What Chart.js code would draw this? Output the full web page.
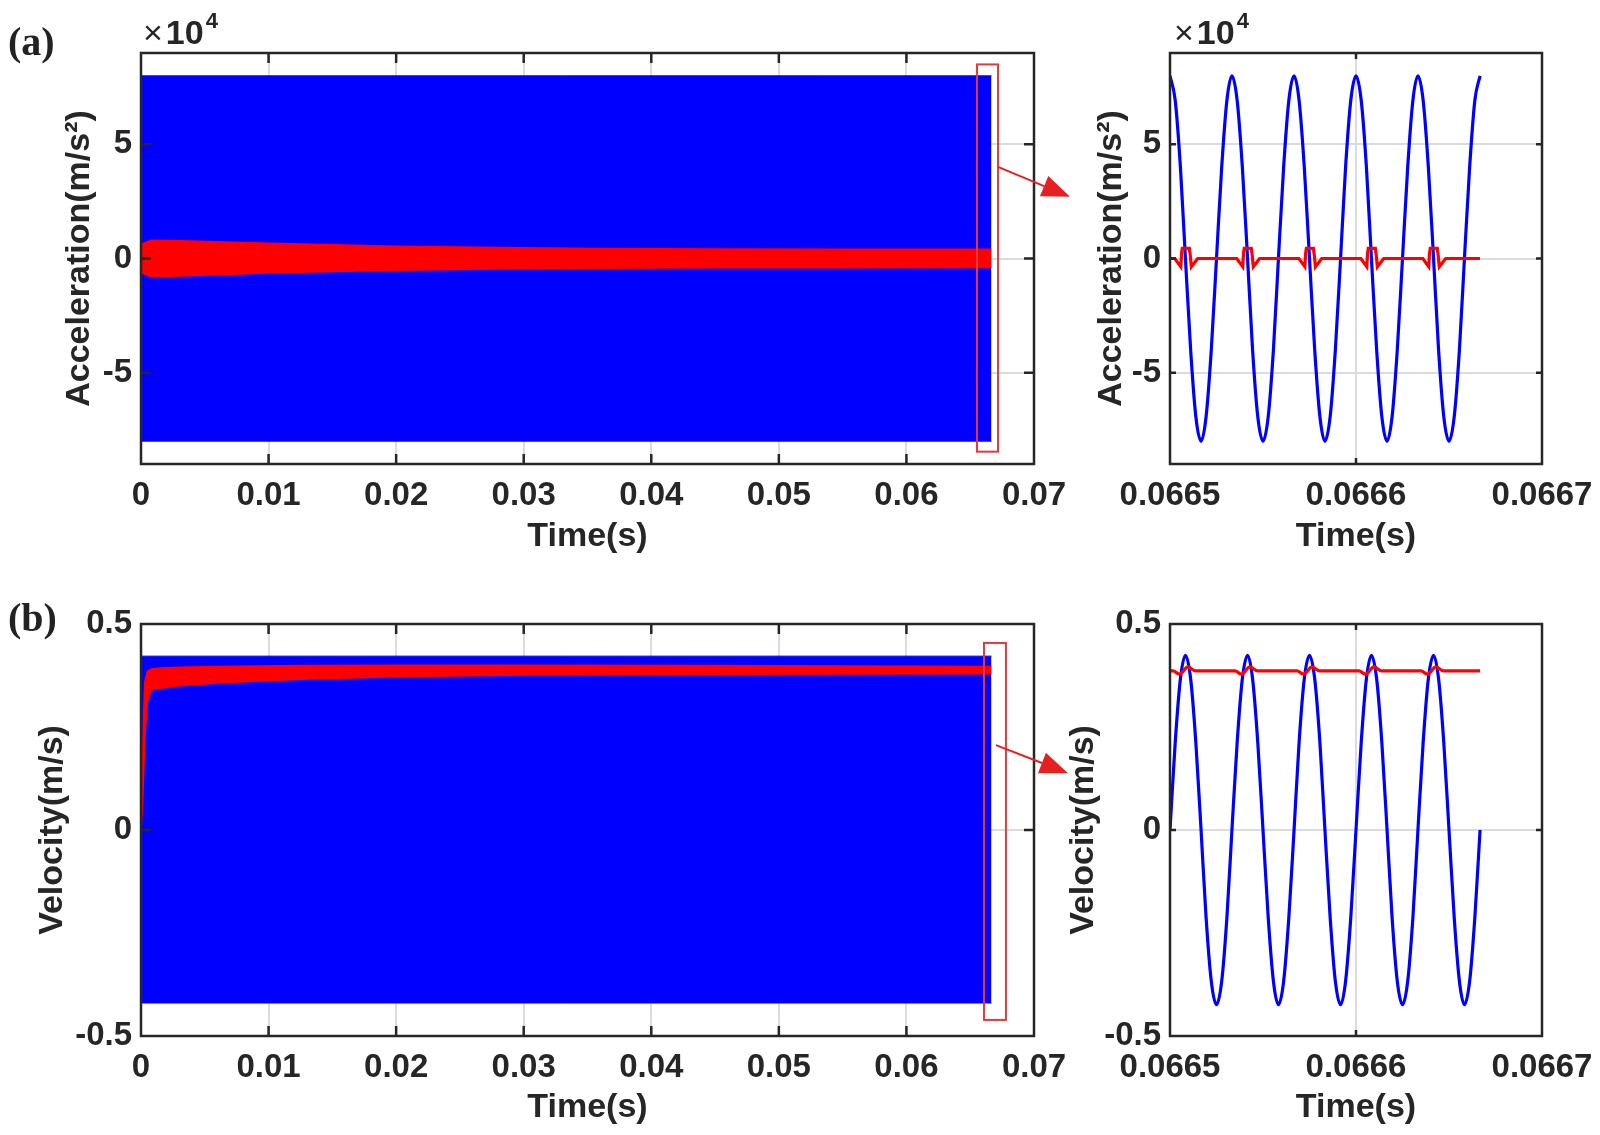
<!DOCTYPE html>
<html><head><meta charset="utf-8">
<script src="https://cdn.jsdelivr.net/npm/chart.js@4.4.1/dist/chart.umd.min.js"></script>
<style>
html,body{margin:0;padding:0;background:#fff;width:1600px;height:1135px;overflow:hidden;}
canvas{position:absolute;left:0;top:0;}
.lbl{position:absolute;font-family:'Liberation Serif','Times New Roman',serif;font-weight:bold;font-size:40px;line-height:40px;color:#222;}
.exp{position:absolute;font-family:'Liberation Sans',Arial,sans-serif;font-weight:bold;color:#262626;white-space:nowrap;font-size:34px;line-height:34px;}
.exp .x{font-weight:normal;font-size:34px;}
.exp .n{margin-left:3px;}
.exp .s{font-size:22px;position:relative;top:-16px;margin-left:2px;}
</style></head><body>
<canvas id="cA" width="1600" height="1135"></canvas>
<canvas id="cB" width="1600" height="1135"></canvas>
<canvas id="cC" width="1600" height="1135"></canvas>
<canvas id="cD" width="1600" height="1135"></canvas>
<div class="lbl" style="left:8px;top:22px;">(a)</div>
<div class="lbl" style="left:8px;top:598px;">(b)</div>
<div class="exp" style="left:143px;top:15px;"><span class="x">×</span><span class="n">10</span><span class="s">4</span></div>
<div class="exp" style="left:1174px;top:15px;"><span class="x">×</span><span class="n">10</span><span class="s">4</span></div>
<script>
// ---------- tick values / labels ----------
const timeTicks = [0, 0.01, 0.02, 0.03, 0.04, 0.05, 0.06, 0.07];
const timeTickLabels = ['0', '0.01', '0.02', '0.03', '0.04', '0.05', '0.06', '0.07'];
const zoomTimeTicks = [0.0665, 0.0666, 0.0667];
const zoomTimeTickLabels = ['0.0665', '0.0666', '0.0667'];
const accelTicks = [-5, 0, 5];
const accelTickLabels = ['-5', '0', '5'];
const velTicks = [-0.5, 0, 0.5];
const velTickLabels = ['-0.5', '0', '0.5'];

// ---------- full-record envelopes (acceleration in 1e4 m/s^2) ----------
const fullTime = [0, 0.0666667];
const accelBlueUpper = [8.0, 8.0];
const accelBlueLower = [-8.0, -8.0];
const accelRedTime = [0, 0.0008, 0.003, 0.006, 0.01, 0.015, 0.02, 0.028, 0.036, 0.045, 0.055, 0.0666667];
const accelRedUpper = [0.62, 0.80, 0.78, 0.73, 0.67, 0.60, 0.54, 0.48, 0.44, 0.42, 0.41, 0.40];
const accelRedLower = [-0.62, -0.80, -0.77, -0.71, -0.64, -0.57, -0.51, -0.46, -0.43, -0.41, -0.40, -0.39];

const velBlueUpper = [0.422, 0.422];
const velBlueLower = [-0.42, -0.42];
const velRedTime = [0, 0.0001, 0.0002, 0.0003, 0.0005, 0.0008, 0.0015, 0.003, 0.006, 0.0125, 0.02, 0.03, 0.045, 0.0666667];
const velRedUpper = [0, 0.14, 0.28, 0.36, 0.385, 0.391, 0.393, 0.395, 0.397, 0.399, 0.400, 0.400, 0.399, 0.397];
const velRedLower = [0, 0.05, 0.13, 0.22, 0.31, 0.34, 0.344, 0.35, 0.357, 0.366, 0.372, 0.376, 0.378, 0.379];

// ---------- zoomed window 0.0665 - 0.0667 s ----------
const zoomTime = [
  0.0665000, 0.0665028, 0.0665056, 0.0665083, 0.0665111, 0.0665139, 0.0665167, 0.0665194, 0.0665222, 0.0665250, 0.0665278, 0.0665306,
  0.0665333, 0.0665361, 0.0665389, 0.0665417, 0.0665444, 0.0665472, 0.0665500, 0.0665528, 0.0665556, 0.0665583, 0.0665611, 0.0665639,
  0.0665667, 0.0665694, 0.0665722, 0.0665750, 0.0665778, 0.0665806, 0.0665833, 0.0665861, 0.0665889, 0.0665917, 0.0665944, 0.0665972,
  0.0666000, 0.0666028, 0.0666056, 0.0666083, 0.0666111, 0.0666139, 0.0666167, 0.0666194, 0.0666222, 0.0666250, 0.0666278, 0.0666306,
  0.0666333, 0.0666361, 0.0666389, 0.0666417, 0.0666444, 0.0666472, 0.0666500, 0.0666528, 0.0666556, 0.0666583, 0.0666611, 0.0666639,
  0.0666667];
const accelBlueZoom = [
  8, 6.93, 4, 0, -4, -6.93, -8, -6.93, -4, 0, 4, 6.93,
  8, 6.93, 4, 0, -4, -6.93, -8, -6.93, -4, 0, 4, 6.93,
  8, 6.93, 4, 0, -4, -6.93, -8, -6.93, -4, 0, 4, 6.93,
  8, 6.93, 4, 0, -4, -6.93, -8, -6.93, -4, 0, 4, 6.93,
  8, 6.93, 4, 0, -4, -6.93, -8, -6.93, -4, 0, 4, 6.93,
  8];
const velBlueZoom = [
  0, 0.212, 0.367, 0.424, 0.367, 0.212, 0, -0.212, -0.367, -0.424, -0.367, -0.212,
  0, 0.212, 0.367, 0.424, 0.367, 0.212, 0, -0.212, -0.367, -0.424, -0.367, -0.212,
  0, 0.212, 0.367, 0.424, 0.367, 0.212, 0, -0.212, -0.367, -0.424, -0.367, -0.212,
  0, 0.212, 0.367, 0.424, 0.367, 0.212, 0, -0.212, -0.367, -0.424, -0.367, -0.212,
  0, 0.212, 0.367, 0.424, 0.367, 0.212, 0, -0.212, -0.367, -0.424, -0.367, -0.212,
  0];
const accelRedZoomTime = [
  0.0665000,
  0.0665026, 0.0665058, 0.0665062, 0.0665066, 0.0665104, 0.0665108, 0.0665115, 0.0665149,
  0.0665359, 0.0665391, 0.0665395, 0.0665399, 0.0665437, 0.0665441, 0.0665448, 0.0665482,
  0.0665693, 0.0665725, 0.0665729, 0.0665733, 0.0665771, 0.0665775, 0.0665782, 0.0665816,
  0.0666026, 0.0666058, 0.0666062, 0.0666066, 0.0666104, 0.0666108, 0.0666115, 0.0666149,
  0.0666359, 0.0666391, 0.0666395, 0.0666399, 0.0666437, 0.0666441, 0.0666448, 0.0666482,
  0.0666667];
const accelRedZoom = [
  0,
  0, -0.36, 0.2, 0.44, 0.44, 0.2, -0.36, 0,
  0, -0.36, 0.2, 0.44, 0.44, 0.2, -0.36, 0,
  0, -0.36, 0.2, 0.44, 0.44, 0.2, -0.36, 0,
  0, -0.36, 0.2, 0.44, 0.44, 0.2, -0.36, 0,
  0, -0.36, 0.2, 0.44, 0.44, 0.2, -0.36, 0,
  0];
const velRedZoomTime = [
  0.0665000,
  0.0665016, 0.0665052, 0.0665096, 0.0665138,
  0.0665349, 0.0665385, 0.0665429, 0.0665471,
  0.0665683, 0.0665719, 0.0665763, 0.0665805,
  0.0666016, 0.0666052, 0.0666096, 0.0666138,
  0.0666349, 0.0666385, 0.0666429, 0.0666471,
  0.0666667];
const velRedZoom = [
  0.386,
  0.386, 0.378, 0.396, 0.386,
  0.386, 0.378, 0.396, 0.386,
  0.386, 0.378, 0.396, 0.386,
  0.386, 0.378, 0.396, 0.386,
  0.386, 0.378, 0.396, 0.386,
  0.386];

// ---------- zoom-region markers (data units) ----------
const accelMarker = { box: [0.06553, 0.06718, -8.46, 8.5], arrow: [0.06718, 4.01, 0.07282, 2.70] };
const velMarker = { box: [0.06608, 0.0678, -0.461, 0.454], arrow: [0.06702, 0.206, 0.07267, 0.138] };

// ---------- styling ----------
const BLUE = '#0000ff', RED = '#ff0000', TXT = '#262626', GRID = '#dcdcdc';
const tickFont = { family: "'Liberation Sans', Arial, sans-serif", weight: 'bold', size: 33 };
const titleFont = { family: "'Liberation Sans', Arial, sans-serif", weight: 'bold', size: 34 };
const HALF_TITLE = 34 * 1.2 / 2;
const pts = (xs, ys) => xs.map((x, i) => ({ x: x, y: ys[i] }));

const framePlugin = {
  id: 'frame',
  afterDatasetsDraw(chart, args, opts) {
    const { ctx, chartArea: a, scales } = chart;
    const L = opts.tickLen || 8;
    ctx.save();
    ctx.strokeStyle = TXT; ctx.lineWidth = 2.5;
    ctx.beginPath();
    scales.x.ticks.forEach(t => {
      const p = scales.x.getPixelForValue(t.value);
      if (p > a.left + 2 && p < a.right - 2) {
        ctx.moveTo(p, a.bottom); ctx.lineTo(p, a.bottom - L);
        ctx.moveTo(p, a.top); ctx.lineTo(p, a.top + L);
      }
    });
    scales.y.ticks.forEach(t => {
      const p = scales.y.getPixelForValue(t.value);
      if (p > a.top + 2 && p < a.bottom - 2) {
        ctx.moveTo(a.left, p); ctx.lineTo(a.left + L, p);
        ctx.moveTo(a.right, p); ctx.lineTo(a.right - L, p);
      }
    });
    ctx.stroke();
    ctx.strokeRect(a.left, a.top, a.right - a.left, a.bottom - a.top);
    ctx.restore();
  }
};

function markerPlugin(m) {
  return {
    id: 'zoomMarker',
    afterDraw(chart) {
      const { ctx, scales: { x, y } } = chart;
      const bx0 = x.getPixelForValue(m.box[0]), bx1 = x.getPixelForValue(m.box[1]);
      const by0 = y.getPixelForValue(m.box[2]), by1 = y.getPixelForValue(m.box[3]);
      ctx.save();
      ctx.strokeStyle = '#e8383a'; ctx.lineWidth = 2;
      ctx.strokeRect(bx0, by1, bx1 - bx0, by0 - by1);
      const ax0 = x.getPixelForValue(m.arrow[0]), ay0 = y.getPixelForValue(m.arrow[1]);
      const ax1 = x.getPixelForValue(m.arrow[2]), ay1 = y.getPixelForValue(m.arrow[3]);
      const ang = Math.atan2(ay1 - ay0, ax1 - ax0);
      const hl = 28, hw = 11;
      const baseX = ax1 - hl * Math.cos(ang), baseY = ay1 - hl * Math.sin(ang);
      ctx.strokeStyle = '#e62020'; ctx.fillStyle = '#e62020'; ctx.lineWidth = 2;
      ctx.beginPath(); ctx.moveTo(ax0, ay0); ctx.lineTo(baseX, baseY); ctx.stroke();
      ctx.beginPath();
      ctx.moveTo(ax1, ay1);
      ctx.lineTo(baseX - hw * Math.sin(ang), baseY + hw * Math.cos(ang));
      ctx.lineTo(baseX + hw * Math.sin(ang), baseY - hw * Math.cos(ang));
      ctx.closePath(); ctx.fill();
      ctx.restore();
    }
  };
}

function makePanel(id, p) {
  const padLeft = p.titleX - HALF_TITLE;
  const plugins = [framePlugin];
  if (p.marker) plugins.push(markerPlugin(p.marker));
  return new Chart(document.getElementById(id), {
    type: 'line',
    data: { datasets: p.datasets },
    options: {
      responsive: false, animation: false, devicePixelRatio: 1, events: [],
      layout: { padding: { left: padLeft, top: p.area.t, right: 1600 - p.area.r, bottom: 1135 - p.area.b - p.xAxisH } },
      elements: { point: { radius: 0 }, line: { tension: 0 } },
      plugins: { legend: { display: false }, tooltip: { enabled: false }, frame: { tickLen: p.tickLen } },
      scales: {
        x: {
          type: 'linear', min: p.xMin, max: p.xMax,
          afterBuildTicks: s => { s.ticks = p.xTicks.map(v => ({ value: v })); },
          afterFit: s => { s.height = p.xAxisH; s.paddingLeft = 0; s.paddingRight = 0; },
          ticks: { callback: (v, i) => p.xLabels[i], font: tickFont, color: TXT, padding: 12, maxRotation: 0, minRotation: 0, autoSkip: false },
          grid: { color: GRID, lineWidth: 2, drawTicks: false },
          border: { display: false },
          title: { display: true, text: 'Time(s)', font: titleFont, color: TXT, padding: 0 }
        },
        y: {
          type: 'linear', min: p.yMin, max: p.yMax,
          afterBuildTicks: s => { s.ticks = p.yTicks.map(v => ({ value: v })); },
          afterFit: s => { s.width = p.area.l - padLeft; s.paddingTop = 0; s.paddingBottom = 0; },
          ticks: { callback: (v, i) => p.yLabels[i], font: tickFont, color: TXT, padding: 9, autoSkip: false },
          grid: { color: GRID, lineWidth: 2, drawTicks: false },
          border: { display: false },
          title: { display: true, text: p.yTitle, font: titleFont, color: TXT, padding: 0 }
        }
      }
    },
    plugins: plugins
  });
}

// (a) acceleration, full record
makePanel('cA', {
  area: { l: 141, r: 1034, t: 53, b: 464 }, titleX: 80, xAxisH: 93, tickLen: 10,
  xMin: 0, xMax: 0.07, xTicks: timeTicks, xLabels: timeTickLabels,
  yMin: -9, yMax: 9, yTicks: accelTicks, yLabels: accelTickLabels, yTitle: 'Acceleration(m/s²)',
  marker: accelMarker,
  datasets: [
    { data: pts(accelRedTime, accelRedUpper), borderColor: RED, backgroundColor: RED, borderWidth: 1.5, fill: '+1' },
    { data: pts(accelRedTime, accelRedLower), borderColor: RED, borderWidth: 1.5, fill: false },
    { data: pts(fullTime, accelBlueUpper), borderColor: BLUE, backgroundColor: BLUE, borderWidth: 1, fill: '+1' },
    { data: pts(fullTime, accelBlueLower), borderColor: BLUE, borderWidth: 1, fill: false }
  ]
});

// (b) velocity, full record
makePanel('cB', {
  area: { l: 141, r: 1034, t: 624, b: 1036 }, titleX: 53, xAxisH: 92, tickLen: 10,
  xMin: 0, xMax: 0.07, xTicks: timeTicks, xLabels: timeTickLabels,
  yMin: -0.5, yMax: 0.5, yTicks: velTicks, yLabels: velTickLabels, yTitle: 'Velocity(m/s)',
  marker: velMarker,
  datasets: [
    { data: pts(velRedTime, velRedUpper), borderColor: RED, backgroundColor: RED, borderWidth: 1.5, fill: '+1' },
    { data: pts(velRedTime, velRedLower), borderColor: RED, borderWidth: 1.5, fill: false },
    { data: pts(fullTime, velBlueUpper), borderColor: BLUE, backgroundColor: BLUE, borderWidth: 1, fill: '+1' },
    { data: pts(fullTime, velBlueLower), borderColor: BLUE, borderWidth: 1, fill: false }
  ]
});

// zoom: acceleration
makePanel('cC', {
  area: { l: 1170, r: 1542, t: 53, b: 464 }, titleX: 1112, xAxisH: 93, tickLen: 6,
  xMin: 0.0665, xMax: 0.0667, xTicks: zoomTimeTicks, xLabels: zoomTimeTickLabels,
  yMin: -9, yMax: 9, yTicks: accelTicks, yLabels: accelTickLabels, yTitle: 'Acceleration(m/s²)',
  datasets: [
    { data: pts(accelRedZoomTime, accelRedZoom), borderColor: RED, borderWidth: 3.2, fill: false },
    { data: pts(zoomTime, accelBlueZoom), borderColor: BLUE, borderWidth: 3.2, fill: false, cubicInterpolationMode: 'monotone' }
  ]
});

// zoom: velocity
makePanel('cD', {
  area: { l: 1170, r: 1542, t: 624, b: 1036 }, titleX: 1084, xAxisH: 92, tickLen: 6,
  xMin: 0.0665, xMax: 0.0667, xTicks: zoomTimeTicks, xLabels: zoomTimeTickLabels,
  yMin: -0.5, yMax: 0.5, yTicks: velTicks, yLabels: velTickLabels, yTitle: 'Velocity(m/s)',
  datasets: [
    { data: pts(velRedZoomTime, velRedZoom), borderColor: RED, borderWidth: 3.2, fill: false, cubicInterpolationMode: 'monotone' },
    { data: pts(zoomTime, velBlueZoom), borderColor: BLUE, borderWidth: 3.2, fill: false, cubicInterpolationMode: 'monotone' }
  ]
});
</script>
</body></html>
